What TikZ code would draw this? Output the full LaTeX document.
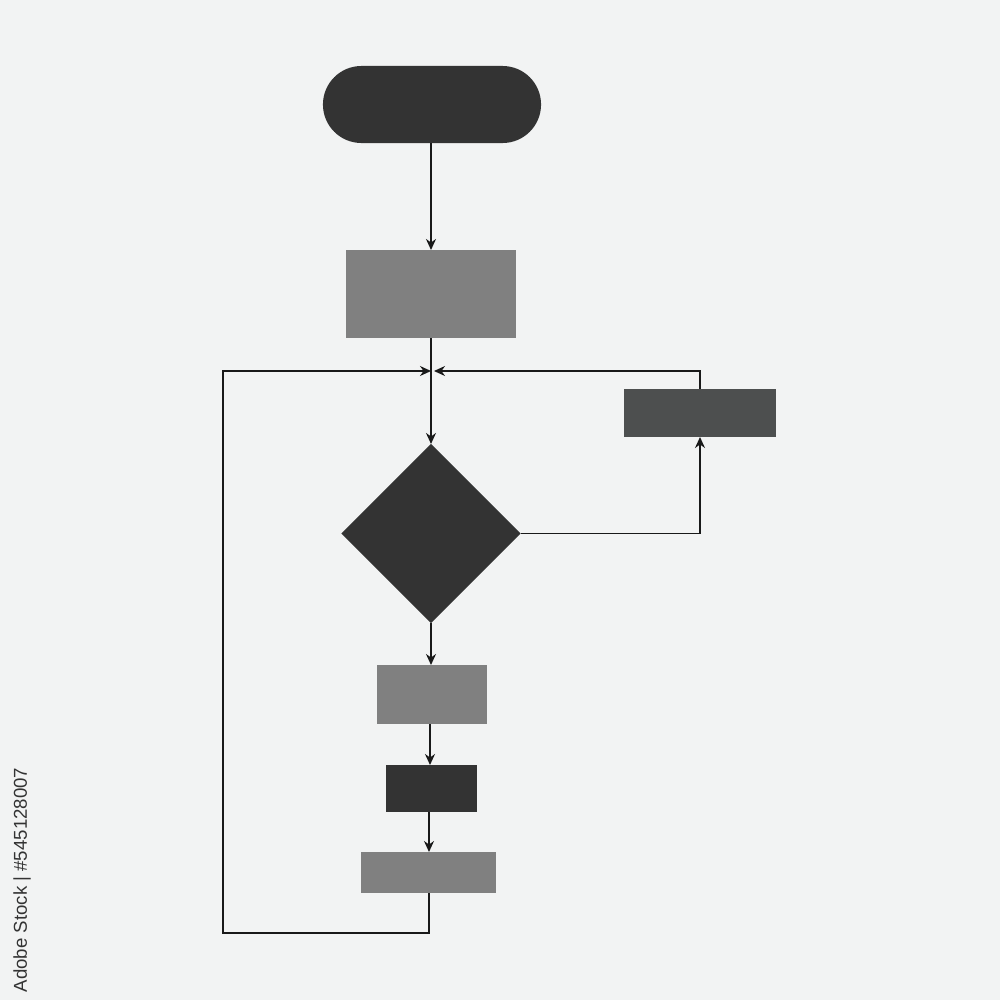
\documentclass[tikz,border=0pt]{standalone}
\usepackage{fontspec}
\setsansfont{Liberation Sans}
\usetikzlibrary{shapes.geometric,arrows.meta}
\definecolor{bg}{HTML}{F2F3F3}
\definecolor{dark}{HTML}{333333}
\definecolor{mid}{HTML}{808080}
\definecolor{slate}{HTML}{4D4F4F}
\tikzset{
  blk/.style={draw=none, inner sep=0pt, outer sep=0pt},
  conn/.style={draw=black!90, line width=0.45pt},
  arr/.style={conn, -{Stealth[length=1.1mm,width=1mm]}},
}
\begin{document}
\begin{tikzpicture}[x=0.01cm,y=-0.01cm]
\fill[bg] (0,0) rectangle (1000,1000);
\useasboundingbox (0,0) rectangle (1000,1000);
% nodes
\node[blk, fill=dark, rounded corners=0.385cm, minimum width=2.18cm, minimum height=0.77cm] (start) at (432,104.5) {};
\node[blk, fill=mid, minimum width=1.70cm, minimum height=0.88cm] (b1) at (431,294) {};
\coordinate (j) at (431,371);
\node[blk, fill=dark, diamond, minimum width=1.79cm, minimum height=1.79cm] (dec) at (431,533.5) {};
\node[blk, fill=slate, minimum width=1.52cm, minimum height=0.48cm] (side) at (700,413) {};
\node[blk, fill=mid, minimum width=1.10cm, minimum height=0.59cm] (b3) at (432,694.5) {};
\node[blk, fill=dark, minimum width=0.91cm, minimum height=0.47cm] (b4) at (431.5,788.5) {};
\node[blk, fill=mid, minimum width=1.35cm, minimum height=0.41cm] (b5) at (428.5,872.5) {};
% connectors
\draw[arr] (start.south -| 431,0) -- (b1.north -| 431,0);
\draw[arr] (b1.south -| 431,0) -- (dec.north);
\draw[arr] (dec.east) -- (700,533.5) -- (side.south);
\draw[arr] (side.north) -- (700,371) -- ([xshift=0.03cm]j);
\draw[arr] (dec.south) -- (b3.north -| 431,0);
\draw[arr] (b3.south -| 430,0) -- (b4.north -| 430,0);
\draw[arr] (b4.south -| 429,0) -- (b5.north -| 429,0);
\draw[arr] (b5.south -| 429,0) -- (429,933) -- (223,933) -- (223,371) -- (j);
% side label
\node[rotate=90, text=dark, font=\sffamily\fontsize{5.3}{6}\selectfont, inner sep=0pt] (lbl) at (22,880) {Adobe Stock | \#545128007};
\end{tikzpicture}
\end{document}
